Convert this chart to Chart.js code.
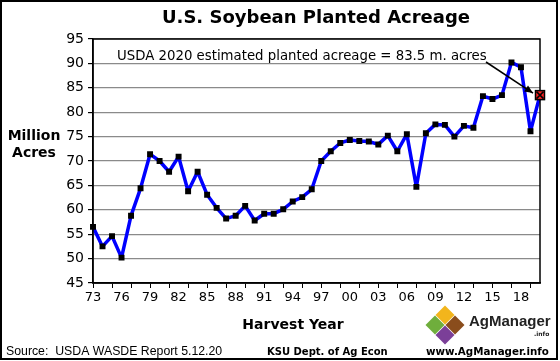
<!DOCTYPE html>
<html>
<head>
<meta charset="utf-8">
<script src="https://cdn.jsdelivr.net/npm/chart.js@4.4.0/dist/chart.umd.min.js"></script>
<style>
  html, body { margin: 0; padding: 0; background: #fff; }
  #wrap { width: 560px; height: 361px; position: relative; }
</style>
</head>
<body>
<div id="wrap"><canvas id="acreChart"></canvas></div>
<script>
// Harvest years and planted acreage (million acres)
const years = [1973, 1974, 1975, 1976, 1977, 1978, 1979, 1980, 1981, 1982, 1983, 1984,
    1985, 1986, 1987, 1988, 1989, 1990, 1991, 1992, 1993, 1994, 1995, 1996,
    1997, 1998, 1999, 2000, 2001, 2002, 2003, 2004, 2005, 2006, 2007, 2008,
    2009, 2010, 2011, 2012, 2013, 2014, 2015, 2016, 2017, 2018, 2019, 2020];
const plantedAcres = [56.5, 52.5, 54.6, 50.2, 58.8, 64.4, 71.4, 70.0, 67.8, 70.9, 63.8, 67.8,
    63.1, 60.4, 58.2, 58.8, 60.8, 57.8, 59.2, 59.2, 60.1, 61.7, 62.6, 64.2,
    70.0, 72.0, 73.7, 74.3, 74.1, 74.0, 73.4, 75.2, 72.0, 75.5, 64.7, 75.7,
    77.5, 77.4, 75.0, 77.2, 76.8, 83.3, 82.7, 83.5, 90.2, 89.2, 76.1, 83.5];
const yTicks = [45, 50, 55, 60, 65, 70, 75, 80, 85, 90, 95];
const noteText = 'USDA 2020 estimated planted acreage = 83.5 m. acres';

const decorations = {
    id: 'decorations',
    afterDraw(chart) {
        const ctx = chart.ctx;
        const area = chart.chartArea;
        const xs = chart.scales.x, ys = chart.scales.y;
        ctx.save();

        // plot frame
        ctx.strokeStyle = '#000';
        ctx.lineWidth = 1.5;
        ctx.strokeRect(area.left, area.top, area.right - area.left, area.bottom - area.top);

        // outer frame
        ctx.lineWidth = 2;
        ctx.strokeRect(1, 1, 556, 358);

        ctx.fillStyle = '#000';
        ctx.textBaseline = 'middle';

        // title
        ctx.textAlign = 'center';
        ctx.font = 'bold 18px "DejaVu Sans"';
        ctx.fillText('U.S. Soybean Planted Acreage', 316, 18);

        // y title
        ctx.font = 'bold 14px "DejaVu Sans"';
        ctx.fillText('Million', 34, 136);
        ctx.fillText('Acres', 34, 153);

        // x title
        ctx.fillText('Harvest Year', 293, 325);

        // note + arrow
        ctx.textAlign = 'left';
        ctx.font = '13.3px "DejaVu Sans"';
        ctx.fillText(noteText, 117, 57);

        const last = plantedAcres.length - 1;
        const px = xs.getPixelForValue(last);
        const py = ys.getPixelForValue(plantedAcres[last]);
        const sx = 486, sy = 62;
        const tx = px - 7, ty = py - 2;
        ctx.strokeStyle = '#000';
        ctx.lineWidth = 1.5;
        ctx.beginPath();
        ctx.moveTo(sx, sy);
        ctx.lineTo(tx, ty);
        ctx.stroke();
        const ang = Math.atan2(ty - sy, tx - sx);
        ctx.beginPath();
        ctx.moveTo(tx, ty);
        ctx.lineTo(tx - 9 * Math.cos(ang - 0.4), ty - 9 * Math.sin(ang - 0.4));
        ctx.lineTo(tx - 9 * Math.cos(ang + 0.4), ty - 9 * Math.sin(ang + 0.4));
        ctx.closePath();
        ctx.fill();

        // 2020 estimate marker
        ctx.fillStyle = '#ff2020';
        ctx.fillRect(px - 4.5, py - 4.5, 9, 9);
        ctx.strokeStyle = '#000';
        ctx.lineWidth = 1.5;
        ctx.strokeRect(px - 4.5, py - 4.5, 9, 9);
        ctx.beginPath();
        ctx.moveTo(px - 3.5, py - 3.5); ctx.lineTo(px + 3.5, py + 3.5);
        ctx.moveTo(px + 3.5, py - 3.5); ctx.lineTo(px - 3.5, py + 3.5);
        ctx.stroke();

        // footer
        ctx.fillStyle = '#000';
        ctx.font = '12.3px "Liberation Sans"';
        ctx.fillText('Source:  USDA WASDE Report 5.12.20', 6, 352);
        ctx.font = 'bold 10px "DejaVu Sans"';
        ctx.fillText('KSU Dept. of Ag Econ', 267, 352);
        ctx.font = 'bold 10.3px "DejaVu Sans"';
        ctx.fillText('www.AgManager.info', 426, 352);

        // logo
        const diamond = (cx, cy, r, col) => {
            ctx.fillStyle = col;
            ctx.beginPath();
            ctx.moveTo(cx, cy - r); ctx.lineTo(cx + r, cy);
            ctx.lineTo(cx, cy + r); ctx.lineTo(cx - r, cy);
            ctx.closePath();
            ctx.fill();
        };
        diamond(445, 315, 9.5, '#f2b51c');
        diamond(435, 325, 9.5, '#6fae3c');
        diamond(455, 325, 9.5, '#8a4d1c');
        diamond(445, 335, 9.5, '#7b3f98');
        ctx.fillStyle = '#222';
        ctx.font = 'bold 15px "Liberation Sans"';
        ctx.fillText('AgManager', 469, 322);
        ctx.font = 'bold 6px "DejaVu Sans"';
        ctx.fillText('.info', 534, 334);

        ctx.restore();
    }
};

new Chart(document.getElementById('acreChart'), {
    type: 'line',
    data: {
        labels: years,
        datasets: [{
            data: plantedAcres,
            borderColor: '#0000ff',
            borderWidth: 3.5,
            borderJoinStyle: 'round',
            tension: 0,
            pointStyle: 'rect',
            pointRadius: ctx => ctx.dataIndex === plantedAcres.length - 1 ? 0 : 4.2,
            pointBackgroundColor: '#000',
            pointBorderColor: '#000',
            pointBorderWidth: 0
        }]
    },
    options: {
        responsive: true,
        maintainAspectRatio: false,
        animation: false,
        layout: { padding: { left: 0, top: 39, right: 20, bottom: 0 } },
        plugins: { legend: { display: false }, tooltip: { enabled: false } },
        scales: {
            x: {
                type: 'category',
                offset: false,
                afterFit: s => { s.height = 78; },
                border: { color: '#000', width: 1.5 },
                grid: {
                    drawOnChartArea: false,
                    tickLength: 5,
                    tickColor: ctx => ctx.index % 2 === 0 ? '#000' : 'rgba(0,0,0,0)'
                },
                ticks: {
                    autoSkip: false,
                    maxRotation: 0,
                    color: '#000',
                    font: { family: 'DejaVu Sans', size: 13 },
                    padding: 2,
                    callback: (v, i) => i % 3 === 0 ? String(years[i]).slice(2) : ''
                }
            },
            y: {
                min: 45,
                max: 95,
                afterFit: s => { s.width = 93; },
                afterBuildTicks: s => { s.ticks = yTicks.map(v => ({ value: v })); },
                border: { color: '#000', width: 1.5 },
                grid: { color: '#8a8a8a', lineWidth: 1.2, tickLength: 5, tickColor: '#000' },
                ticks: {
                    color: '#000',
                    font: { family: 'DejaVu Sans', size: 14 },
                    padding: 4
                }
            }
        }
    },
    plugins: [decorations]
});
</script>
</body>
</html>
